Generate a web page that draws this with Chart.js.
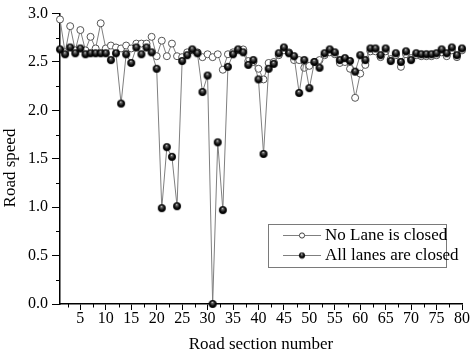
<!DOCTYPE html>
<html><head><meta charset="utf-8">
<script src="https://cdn.jsdelivr.net/npm/chart.js@4.4.0/dist/chart.umd.min.js"></script>
<style>html,body{margin:0;padding:0;background:#fff}#wrap{width:474px;height:361px;position:relative}</style>
</head><body><div id="wrap"><canvas id="c"></canvas></div>
<script>
// ---- data ----
const sections = Array.from({length: 80}, (_, i) => i + 1);
const noLaneClosed = [
  2.94,2.60,2.87,2.62,2.83,2.62,2.76,2.64,2.90,2.64,
  2.67,2.65,2.64,2.67,2.64,2.69,2.69,2.69,2.76,2.56,
  2.72,2.56,2.69,2.56,2.55,2.60,2.62,2.60,2.55,2.58,
  2.55,2.58,2.42,2.58,2.60,2.62,2.63,2.51,2.50,2.43,
  2.32,2.49,2.50,2.57,2.62,2.60,2.52,2.52,2.44,2.46,
  2.50,2.52,2.57,2.60,2.58,2.49,2.50,2.43,2.13,2.38,
  2.47,2.61,2.61,2.55,2.61,2.53,2.57,2.45,2.58,2.54,
  2.57,2.56,2.56,2.56,2.57,2.60,2.56,2.62,2.55,2.62
];
const allLanesClosed = [
  2.63,2.58,2.65,2.59,2.64,2.58,2.59,2.59,2.59,2.59,
  2.52,2.59,2.07,2.58,2.49,2.65,2.58,2.65,2.60,2.43,
  0.99,1.62,1.52,1.01,2.51,2.57,2.63,2.59,2.19,2.36,
  0.00,1.67,0.97,2.45,2.58,2.63,2.60,2.47,2.52,2.32,
  1.55,2.43,2.48,2.59,2.65,2.59,2.56,2.18,2.52,2.23,
  2.50,2.44,2.59,2.63,2.60,2.52,2.54,2.51,2.40,2.57,
  2.52,2.64,2.64,2.57,2.64,2.51,2.59,2.50,2.61,2.52,
  2.59,2.58,2.58,2.58,2.59,2.63,2.59,2.65,2.57,2.64
];
const xTicks = [5,10,15,20,25,30,35,40,45,50,55,60,65,70,75,80];
const xMinorTicks = [2.5,7.5,12.5,17.5,22.5,27.5,32.5,37.5,42.5,47.5,52.5,57.5,62.5,67.5,72.5,77.5];
const yTicks = [0,0.5,1.0,1.5,2.0,2.5,3.0];
const yMinorTicks = [0.25,0.75,1.25,1.75,2.25,2.75];
const seriesNames = ['No Lane is closed', 'All lanes are closed'];
const xTitle = 'Road section number';
const yTitle = 'Road speed';

// ---- styling helpers ----
const FONT = '"Liberation Serif", "Times New Roman", serif';
function sphere(r) {
  const s = Math.ceil(r * 2 + 2);
  const c = document.createElement('canvas');
  c.width = c.height = s;
  const g = c.getContext('2d');
  const cx = s / 2, cy = s / 2;
  const grad = g.createRadialGradient(cx - 0.1 * r, cy - 0.5 * r, 0, cx, cy, r);
  grad.addColorStop(0, '#ffffff');
  grad.addColorStop(0.25, '#666666');
  grad.addColorStop(0.7, '#0a0a0a');
  grad.addColorStop(1, '#000000');
  g.beginPath(); g.arc(cx, cy, r, 0, Math.PI * 2);
  g.fillStyle = grad; g.fill();
  g.lineWidth = 0.7; g.strokeStyle = '#000'; g.stroke();
  return c;
}
const bigSphere = sphere(3.7);
const smallSphere = sphere(2.8);

const extras = {
  id: 'extras',
  afterDraw(chart) {
    const ctx = chart.ctx;
    const xs = chart.scales.x, ys = chart.scales.y;
    const area = chart.chartArea;
    ctx.save();
    // minor ticks
    ctx.strokeStyle = '#000'; ctx.lineWidth = 1;
    ctx.beginPath();
    xMinorTicks.forEach(v => {
      const px = Math.round(xs.getPixelForValue(v)) + 0.5;
      ctx.moveTo(px, area.bottom); ctx.lineTo(px, area.bottom + 3.5);
    });
    yMinorTicks.forEach(v => {
      const py = Math.round(ys.getPixelForValue(v)) + 0.5;
      ctx.moveTo(area.left - 4, py); ctx.lineTo(area.left, py);
    });
    ctx.stroke();
    // axis titles
    ctx.fillStyle = '#000';
    ctx.font = '17px ' + FONT;
    ctx.textAlign = 'center'; ctx.textBaseline = 'middle';
    ctx.fillText(xTitle, (area.left + area.right) / 2, 345);
    ctx.save();
    ctx.translate(11, 168); ctx.rotate(-Math.PI / 2);
    ctx.fillText(yTitle, 0, 0);
    ctx.restore();
    // legend
    const bx = 268.5, by = 224.5, bw = 178, bh = 43;
    ctx.fillStyle = '#fff';
    ctx.fillRect(bx, by, bw, bh);
    ctx.strokeStyle = '#7a7a7a'; ctx.lineWidth = 1;
    ctx.strokeRect(bx, by, bw, bh);
    const rows = [235, 255];
    rows.forEach((ry, i) => {
      ctx.strokeStyle = '#7f7f7f'; ctx.lineWidth = 1;
      ctx.beginPath(); ctx.moveTo(283, ry + 0.5); ctx.lineTo(321, ry + 0.5); ctx.stroke();
      if (i === 0) {
        ctx.beginPath(); ctx.arc(302, ry + 0.5, 2.6, 0, Math.PI * 2);
        ctx.fillStyle = '#fff'; ctx.fill();
        ctx.strokeStyle = '#444'; ctx.stroke();
      } else {
        ctx.drawImage(smallSphere, 302 - smallSphere.width / 2, ry + 0.5 - smallSphere.height / 2);
      }
      ctx.fillStyle = '#000';
      ctx.font = '17px ' + FONT;
      ctx.textAlign = 'left'; ctx.textBaseline = 'middle';
      ctx.fillText(seriesNames[i], 325, ry + 1);
    });
    ctx.restore();
  }
};

new Chart(document.getElementById('c'), {
  type: 'line',
  data: {
    datasets: [
      {
        label: seriesNames[1],
        data: sections.map((s, i) => ({x: s, y: allLanesClosed[i]})),
        borderColor: '#7f7f7f', borderWidth: 1,
        pointStyle: bigSphere, pointRadius: 4, pointHoverRadius: 4,
        order: 0, clip: false, tension: 0
      },
      {
        label: seriesNames[0],
        data: sections.map((s, i) => ({x: s, y: noLaneClosed[i]})),
        borderColor: '#7f7f7f', borderWidth: 1,
        pointStyle: 'circle', pointRadius: 3.5, pointHoverRadius: 3.5,
        pointBackgroundColor: '#fff', pointBorderColor: '#555', pointBorderWidth: 1,
        order: 1, clip: false, tension: 0
      }
    ]
  },
  options: {
    responsive: true, maintainAspectRatio: false, animation: false,
    devicePixelRatio: 1,
    layout: {padding: {top: 10, right: 12, left: 0, bottom: 0}},
    plugins: {legend: {display: false}, tooltip: {enabled: false}, title: {display: false}},
    scales: {
      x: {
        type: 'linear', min: 1, max: 80,
        afterBuildTicks: s => { s.ticks = xTicks.map(v => ({value: v})); },
        afterFit: s => { s.height = 57; },
        ticks: {font: {family: FONT, size: 16}, color: '#000', autoSkip: false, maxRotation: 0, padding: -1},
        grid: {drawOnChartArea: false, drawTicks: true, tickLength: 6, tickColor: '#000'},
        border: {display: true, color: '#000', width: 1.5}
      },
      y: {
        type: 'linear', min: 0, max: 3,
        afterBuildTicks: s => { s.ticks = yTicks.map(v => ({value: v})); },
        afterFit: s => { s.width = 60; },
        ticks: {font: {family: FONT, size: 16}, color: '#000', padding: 4, callback: v => Number(v).toFixed(1)},
        grid: {drawOnChartArea: false, drawTicks: true, tickLength: 8, tickColor: '#000'},
        border: {display: true, color: '#000', width: 1.5}
      }
    }
  },
  plugins: [extras]
});
</script>
</body></html>
